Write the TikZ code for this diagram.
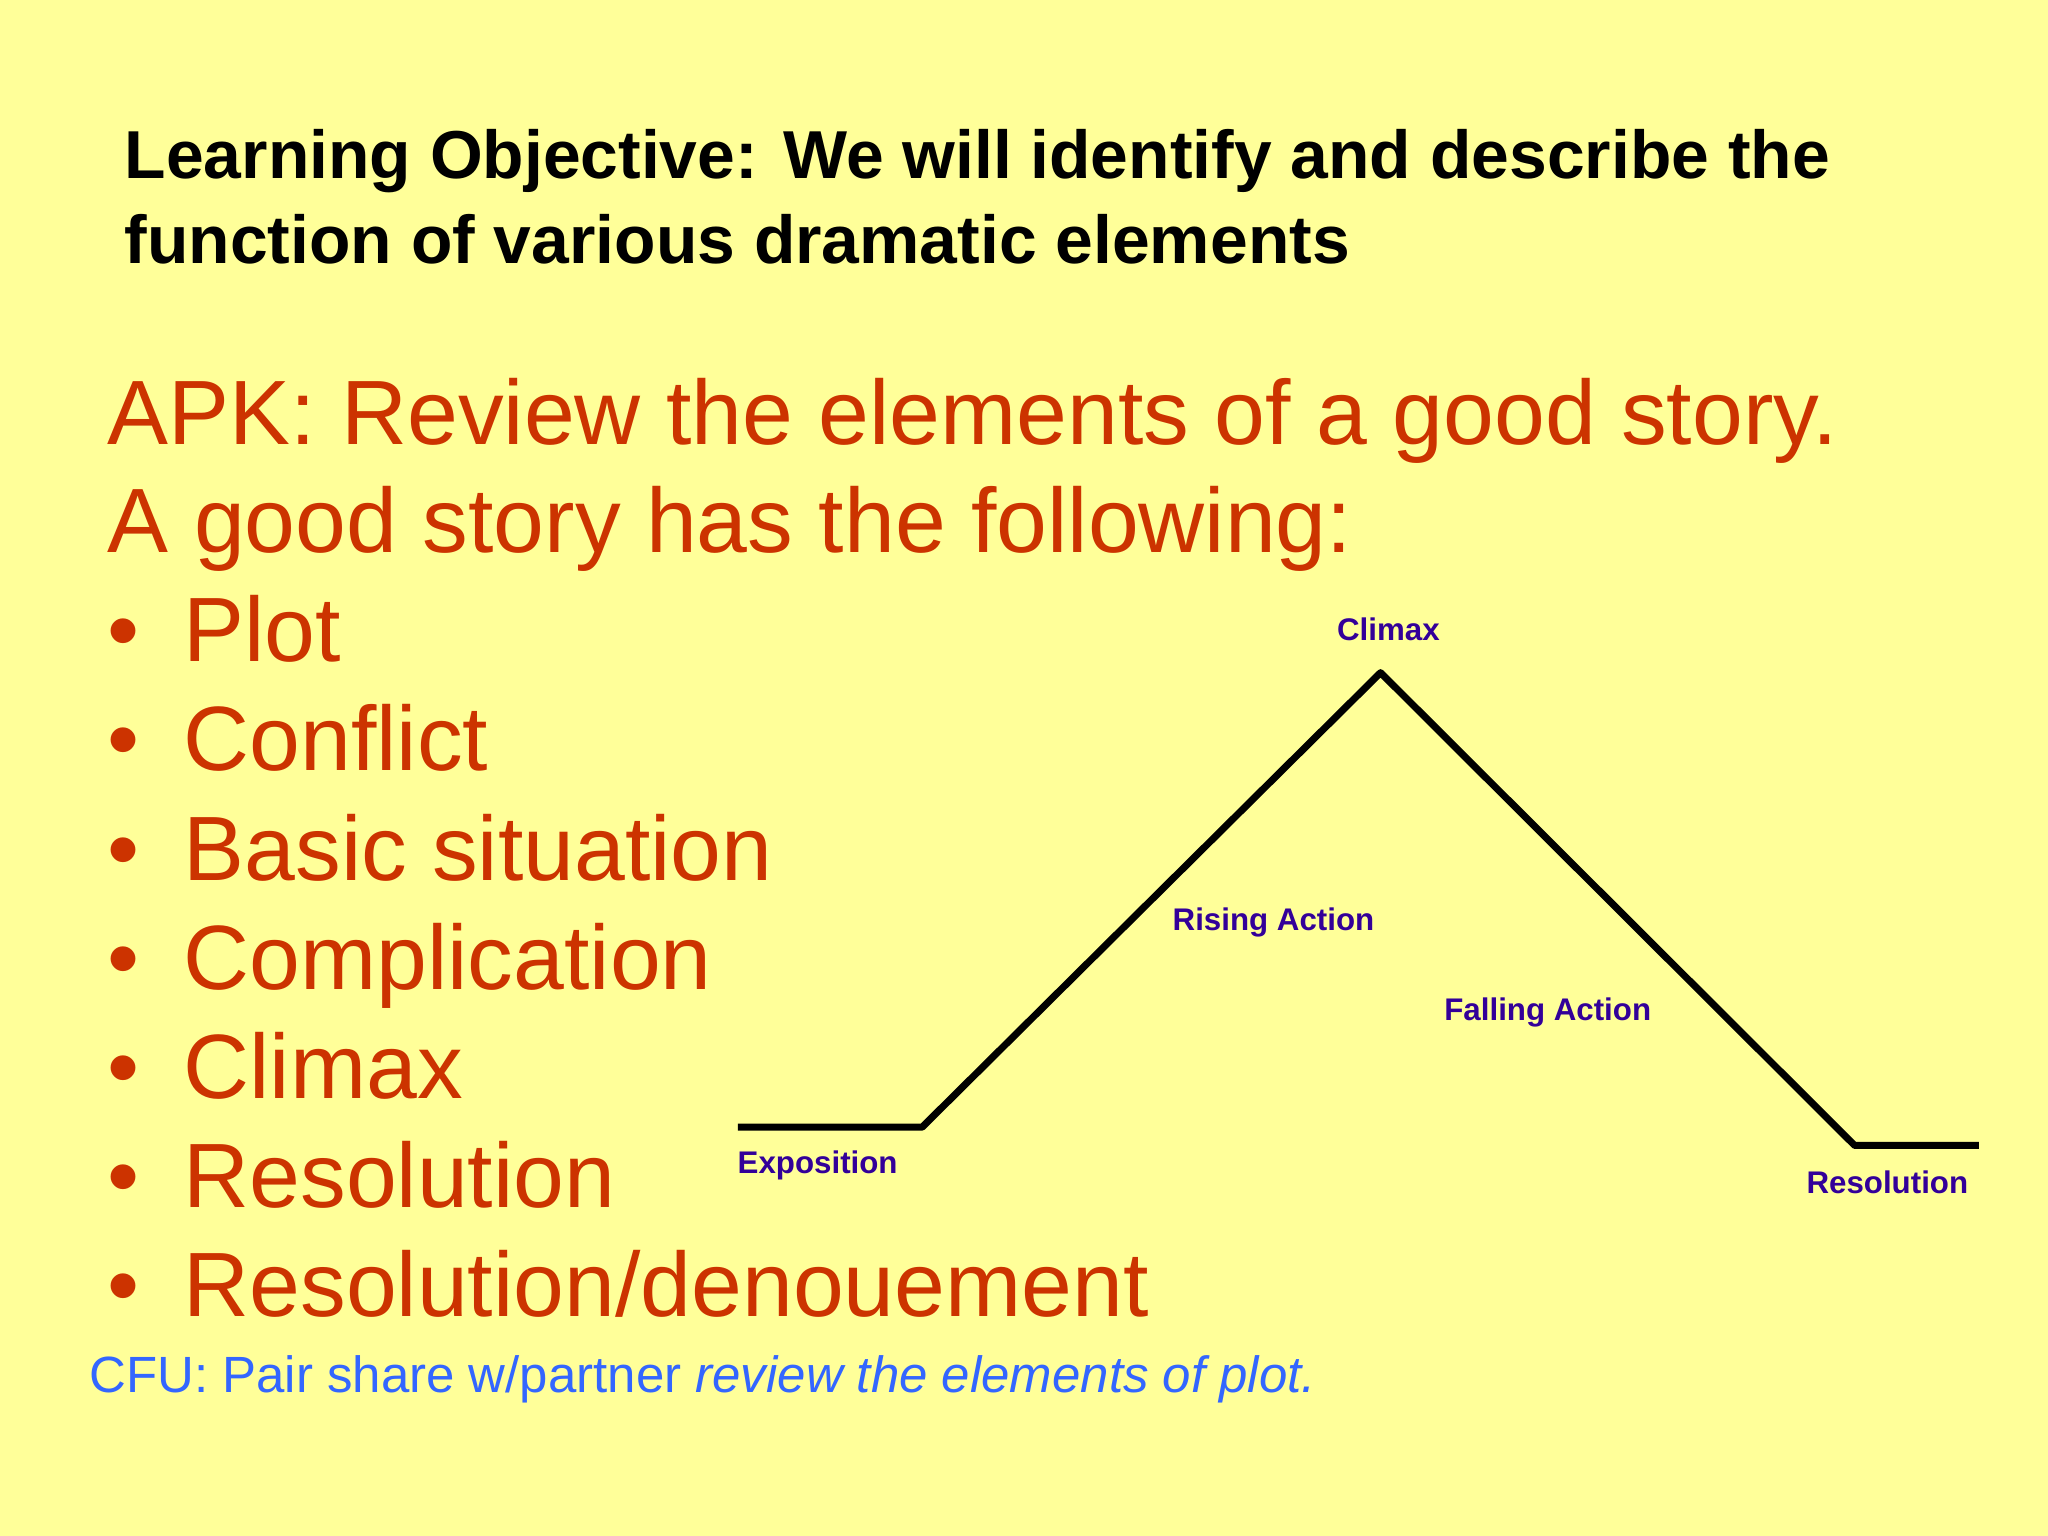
\documentclass[tikz,border=0pt]{standalone}
\usepackage{fontspec}
\setmainfont{Liberation Sans}
\definecolor{bg}{HTML}{FFFF99}
\definecolor{apk}{HTML}{CC3300}
\definecolor{cfu}{HTML}{3366FF}
\definecolor{lbl}{HTML}{330099}
\begin{document}
\begin{tikzpicture}[x=0.01306cm,y=-0.01306cm,
  ttl/.style={anchor=base west,inner sep=0pt,font=\fontsize{19.3}{21}\selectfont\bfseries},
  big/.style={anchor=base west,inner sep=0pt,text=apk,font=\fontsize{26}{30}\selectfont},
  lb/.style={inner sep=0pt,text=lbl,font=\fontsize{8.9}{10}\selectfont\bfseries},
  plotline/.style={line width=2pt,black}]
\fill[bg] (0,0) rectangle (1568,1176);
\useasboundingbox (0,0) rectangle (1568,1176);
\node[ttl] (t1) at (95,137) {Learning Objective: We will identify and describe the};
\node[ttl] (t2) at (95,202) {function of various dramatic elements};
\node[big] (a1) at (82,340) {APK: Review the elements of a good story.};
\node[big] (a2) at (82,423) {A good story has the following:};
\foreach \t [count=\i] in {Plot,Conflict,Basic situation,Complication,Climax,Resolution,Resolution/denouement}{
  \node[big] (b\i) at (82,{423+83.6*\i}) {•};
  \node[big] (s\i) at (140,{423+83.6*\i}) {\t};
}
\node[anchor=base west,inner sep=0pt,text=cfu,font=\fontsize{14.5}{16}\selectfont] (cfu) at (68,1066) {CFU: Pair share w/partner \textit{review the elements of plot.}};
\coordinate (p0) at (565,863);
\coordinate (p1) at (706,863);
\coordinate (p2) at (1057,515);
\coordinate (p3) at (1420,877);
\coordinate (p4) at (1515,877);
\draw[plotline,line join=round] (p0) -- (p1) -- (p2) -- (p3) -- (p4);
\node[lb] (lc) at (1063,482) {Climax};
\node[lb] (lr) at (975,706) {Rising Action};
\node[lb] (lf) at (1185,775) {Falling Action};
\node[lb] (le) at (626,892) {Exposition};
\node[lb] (ls) at (1445,905) {Resolution};
\end{tikzpicture}
\end{document}
